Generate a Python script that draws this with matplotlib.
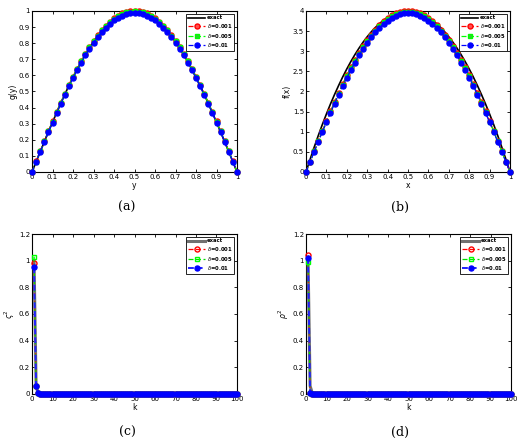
import numpy as np
import matplotlib
matplotlib.use("Agg")
import matplotlib.pyplot as plt

# ---- data ----
x_grid = np.linspace(0, 1, 51)

# panel (a): g(y)
ga_exact = [0, 0.063, 0.125, 0.187, 0.249, 0.309, 0.368, 0.426, 0.482, 0.536, 0.588, 0.637, 0.685,
            0.729, 0.771, 0.809, 0.844, 0.876, 0.905, 0.930, 0.951, 0.969, 0.982, 0.992, 0.998, 1.0,
            0.998, 0.992, 0.982, 0.969, 0.951, 0.930, 0.905, 0.876, 0.844, 0.809, 0.771, 0.729,
            0.685, 0.637, 0.588, 0.536, 0.482, 0.426, 0.368, 0.309, 0.249, 0.187, 0.125, 0.063, 0]
ga_red = [0, 0.066, 0.130, 0.192, 0.254, 0.314, 0.373, 0.431, 0.487, 0.541, 0.593, 0.642, 0.690,
          0.734, 0.776, 0.814, 0.849, 0.881, 0.909, 0.934, 0.955, 0.972, 0.985, 0.994, 0.999, 1.0,
          0.999, 0.994, 0.985, 0.972, 0.955, 0.934, 0.909, 0.881, 0.849, 0.814, 0.776, 0.734,
          0.690, 0.642, 0.593, 0.541, 0.487, 0.431, 0.373, 0.314, 0.254, 0.192, 0.130, 0.066, 0]
ga_green = [0, 0.065, 0.128, 0.190, 0.252, 0.312, 0.371, 0.429, 0.485, 0.539, 0.591, 0.640, 0.688,
            0.732, 0.774, 0.812, 0.847, 0.879, 0.907, 0.932, 0.953, 0.970, 0.983, 0.992, 0.996, 0.997,
            0.996, 0.992, 0.983, 0.970, 0.953, 0.932, 0.907, 0.879, 0.847, 0.812, 0.774, 0.732,
            0.688, 0.640, 0.591, 0.539, 0.485, 0.429, 0.371, 0.312, 0.252, 0.190, 0.128, 0.065, 0]
ga_blue = [0, 0.064, 0.126, 0.187, 0.248, 0.307, 0.366, 0.423, 0.479, 0.532, 0.584, 0.633, 0.680,
           0.724, 0.765, 0.803, 0.838, 0.869, 0.897, 0.921, 0.941, 0.958, 0.972, 0.982, 0.988, 0.990,
           0.988, 0.982, 0.972, 0.958, 0.941, 0.921, 0.897, 0.869, 0.838, 0.803, 0.765, 0.724,
           0.680, 0.633, 0.584, 0.532, 0.479, 0.423, 0.366, 0.307, 0.248, 0.187, 0.126, 0.064, 0]

# panel (b): f(x)
fb_exact = [0, 0.314, 0.614, 0.902, 1.178, 1.440, 1.690, 1.926, 2.150, 2.362, 2.560, 2.746, 2.918,
            3.078, 3.226, 3.360, 3.482, 3.590, 3.686, 3.770, 3.840, 3.898, 3.942, 3.974, 3.994, 4.000,
            3.994, 3.974, 3.942, 3.898, 3.840, 3.770, 3.686, 3.590, 3.482, 3.360, 3.226, 3.078,
            2.918, 2.746, 2.560, 2.362, 2.150, 1.926, 1.690, 1.440, 1.178, 0.902, 0.614, 0.314, 0]
fb_red = [0, 0.26, 0.52, 0.77, 1.02, 1.27, 1.51, 1.74, 1.97, 2.19, 2.40, 2.60, 2.79,
          2.96, 3.12, 3.27, 3.41, 3.54, 3.65, 3.75, 3.83, 3.90, 3.95, 3.98, 4.00, 4.01,
          4.00, 3.98, 3.95, 3.90, 3.83, 3.75, 3.65, 3.54, 3.41, 3.27, 3.12, 2.96,
          2.79, 2.60, 2.40, 2.19, 1.97, 1.74, 1.51, 1.27, 1.02, 0.77, 0.52, 0.26, 0]
fb_green = [0, 0.25, 0.51, 0.76, 1.01, 1.25, 1.49, 1.72, 1.95, 2.17, 2.38, 2.58, 2.76,
            2.94, 3.10, 3.25, 3.39, 3.51, 3.63, 3.72, 3.80, 3.87, 3.92, 3.95, 3.97, 3.98,
            3.97, 3.95, 3.92, 3.87, 3.80, 3.72, 3.63, 3.51, 3.39, 3.25, 3.10, 2.94,
            2.76, 2.58, 2.38, 2.17, 1.95, 1.72, 1.49, 1.25, 1.01, 0.76, 0.51, 0.25, 0]
fb_blue = [0, 0.25, 0.50, 0.75, 0.99, 1.23, 1.47, 1.70, 1.92, 2.14, 2.34, 2.54, 2.72,
           2.90, 3.06, 3.21, 3.35, 3.47, 3.58, 3.68, 3.76, 3.83, 3.88, 3.92, 3.94, 3.95,
           3.94, 3.92, 3.88, 3.83, 3.76, 3.68, 3.58, 3.47, 3.35, 3.21, 3.06, 2.90,
           2.72, 2.54, 2.34, 2.14, 1.92, 1.70, 1.47, 1.23, 0.99, 0.75, 0.50, 0.25, 0]

# panels (c), (d): values against k = 1..100
k_vals = np.arange(1, 101)
c_exact = [1.0, 0.06, 0.005] + [0.0] * 97
c_red = [0.98, 0.06, 0.01] + [0.0] * 97
c_green = [1.03, 0.06, 0.01] + [0.0] * 97
c_blue = [0.95, 0.06, 0.01] + [0.0] * 97

d_exact = [1.0, 0.06, 0.01] + [0.0] * 97
d_red = [1.04, 0.01, 0.0] + [0.0] * 97
d_green = [0.99, 0.01, 0.0] + [0.0] * 97
d_blue = [1.02, 0.01, 0.0] + [0.0] * 97

legend_labels = ["exact", r"$\delta$=0.001", r"$\delta$=0.005", r"$\delta$=0.01"]
ticks_01 = ["0", "0.1", "0.2", "0.3", "0.4", "0.5", "0.6", "0.7", "0.8", "0.9", "1"]
ticks_b = ["0", "0.5", "1", "1.5", "2", "2.5", "3", "3.5", "4"]
ticks_cd = ["0", "0.2", "0.4", "0.6", "0.8", "1", "1.2"]
ticks_k = ["0", "10", "20", "30", "40", "50", "60", "70", "80", "90", "100"]

W, H = 528, 442
fig = plt.figure(figsize=(W / 100, H / 100), dpi=100)


def make_ax(l, t, r, b):
    return fig.add_axes([l / W, 1 - b / H, (r - l) / W, (b - t) / H])


def style(ax):
    ax.tick_params(direction="in", length=2.5, width=0.6, labelsize=5, pad=1.5,
                   top=True, right=True)
    for s in ax.spines.values():
        s.set_linewidth(0.8)
        s.set_zorder(0.5)


ms = 3.6
axa = make_ax(32, 11, 237, 172)
axa.plot(x_grid, ga_exact, "k-", lw=1.2, label=legend_labels[0])
axa.plot(x_grid, ga_red, "r--o", lw=0.9, ms=ms, mfc="#ff5050", mec="r", label=legend_labels[1], dashes=(4, 2), clip_on=False)
axa.plot(x_grid, ga_green, "--s", color="#00ff00", lw=0.9, ms=ms - 0.4, mfc="#33cc33", mec="#00ff00", label=legend_labels[2], dashes=(4, 2), clip_on=False)
axa.plot(x_grid, ga_blue, "b--o", lw=0.9, ms=ms, mfc="b", mec="b", label=legend_labels[3], dashes=(4, 2), clip_on=False)
axa.set_xlim(0, 1)
axa.set_ylim(0, 1)
axa.set_xticks(np.linspace(0, 1, 11), ticks_01)
axa.set_yticks(np.linspace(0, 1, 11), ticks_01)
axa.set_xlabel("y", fontsize=5.5, labelpad=1)
axa.set_ylabel("g(y)", fontsize=5.5, labelpad=1)

axb = make_ax(306, 11, 510, 172)
axb.plot(x_grid, fb_exact, "k-", lw=1.2, label=legend_labels[0])
axb.plot(x_grid, fb_red, "r--o", lw=0.9, ms=ms, mfc="#ff5050", mec="r", label=legend_labels[1], dashes=(4, 2), clip_on=False)
axb.plot(x_grid, fb_green, "--s", color="#00ff00", lw=0.9, ms=ms - 0.4, mfc="#33cc33", mec="#00ff00", label=legend_labels[2], dashes=(4, 2), clip_on=False)
axb.plot(x_grid, fb_blue, "b--o", lw=0.9, ms=ms, mfc="b", mec="b", label=legend_labels[3], dashes=(4, 2), clip_on=False)
axb.set_xlim(0, 1)
axb.set_ylim(0, 4)
axb.set_xticks(np.linspace(0, 1, 11), ticks_01)
axb.set_yticks(np.linspace(0, 4, 9), ticks_b)
axb.set_xlabel("x", fontsize=5.5, labelpad=1)
axb.set_ylabel("f(x)", fontsize=5.5, labelpad=1)

axc = make_ax(32, 234, 237, 394)
axd = make_ax(306, 234, 511, 394)
for ax, ex, rd, gr, bl, yl in [(axc, c_exact, c_red, c_green, c_blue, r"$\varsigma^2$"),
                               (axd, d_exact, d_red, d_green, d_blue, r"$\rho^2$")]:
    ax.plot(k_vals, ex, "-", color="#707070", lw=2.2, label=legend_labels[0])
    ax.plot(k_vals, rd, "r--o", lw=0.9, ms=ms, mfc="none", mec="r", label=legend_labels[1], dashes=(4, 2), clip_on=False)
    ax.plot(k_vals, gr, "--s", color="#00dd00", lw=0.9, ms=ms - 0.4, mfc="none", mec="#00ff00", label=legend_labels[2], dashes=(4, 2), clip_on=False)
    ax.plot(k_vals, bl, "--o", color="#2020ff", lw=1.4, ms=ms, mfc="b", mec="b", label=legend_labels[3], dashes=(3, 1.5), clip_on=False)
    ax.set_xlim(0, 100)
    ax.set_ylim(0, 1.2)
    ax.set_xticks(np.arange(0, 101, 10), ticks_k)
    ax.set_yticks(np.linspace(0, 1.2, 7), ticks_cd)
    ax.set_xlabel("k", fontsize=5.5, labelpad=1)
    ax.set_ylabel(yl, fontsize=5.5, labelpad=1)

for ax in (axa, axb, axc, axd):
    style(ax)
    leg = ax.legend(loc="upper right", fontsize=3.8, handlelength=3.2, handletextpad=0.3,
                    borderpad=0.35, labelspacing=0.3, fancybox=False, framealpha=1,
                    edgecolor="k", borderaxespad=0.5)
    leg.get_frame().set_linewidth(0.6)
    leg.set_zorder(5)
    for t in leg.get_texts():
        t.set_fontweight("bold")

for lab, x, y in [("(a)", 127, 207), ("(b)", 400, 207), ("(c)", 127, 432), ("(d)", 400, 432)]:
    fig.text(x / W, 1 - y / H, lab, ha="center", va="center", fontsize=9, family="DejaVu Serif")

fig.savefig("out.png", dpi=100)
